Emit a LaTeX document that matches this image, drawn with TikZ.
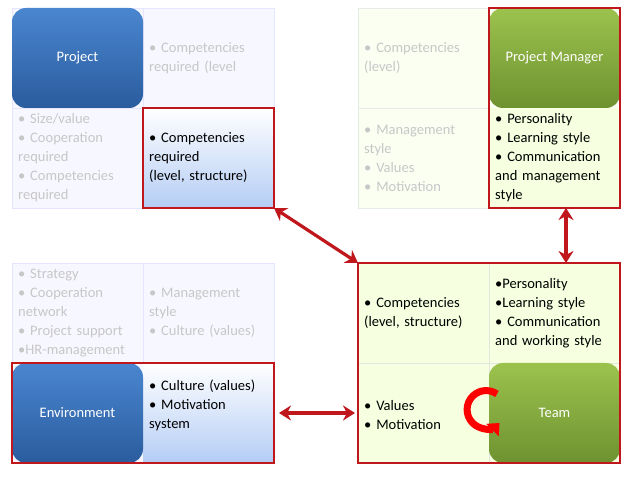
\documentclass[tikz,border=0pt]{standalone}
\usepackage{fontspec}
\setmainfont{Carlito}
\usetikzlibrary{arrows.meta}
\definecolor{bt}{HTML}{4A86D0}
\definecolor{bb}{HTML}{2A5C9E}
\definecolor{gt}{HTML}{9CC24E}
\definecolor{gb}{HTML}{6E9230}
\definecolor{lb}{HTML}{B4CDF5}
\definecolor{rd}{HTML}{C0171D}
\begin{document}
\begin{tikzpicture}[x=1pt,y=-1pt,
  txt/.style={anchor=west,align=left,font=\fontsize{14.5}{19}\selectfont,inner sep=0pt,text width=128pt},
  faint/.style={txt,text=black!22},
  red box/.style={draw=rd,line width=2.2pt},
  dbl/.style={draw=rd,line width=3.2pt,{Stealth[length=12pt,width=15pt]}-{Stealth[length=12pt,width=15pt]}},
  cellb/.style={fill=blue!3,draw=blue!10},
  cellg/.style={fill=green!40!yellow!5,draw=green!20!black!10},
  tileb/.style={rounded corners=14pt,top color=bt,bottom color=bb,draw=none},
  tileg/.style={rounded corners=14pt,top color=gt,bottom color=gb,draw=none},
  lbl/.style={text=white,font=\fontsize{14.5}{17}\selectfont}]
\path[use as bounding box,fill=white] (0,0) rectangle (638,478);
% Project
\fill[cellb] (12,8) rectangle (274,208);
\draw[blue!10] (143,8)--(143,208) (12,108)--(274,108);
\node[tileb,minimum width=131pt,minimum height=100pt,lbl] (proj) at (77.5,58) {Project};
\shade[top color=white,bottom color=lb] (143,108) rectangle (274,208);
\node[red box,minimum width=131pt,minimum height=100pt] (pbox) at (208.5,158) {};
\node[faint] (p1) at (149,58) {• Competencies\\required (level};
\node[faint] (p2) at (18,158) {• Size/value\\• Cooperation\\required\\• Competencies\\required};
\node[txt] (p3) at (149,158) {• Competencies\\required\\(level, structure)};
% Project manager
\fill[cellg] (358,8) rectangle (620,208);
\draw[green!20!black!10] (489,8)--(489,208) (358,108)--(620,108);
\node[tileg,minimum width=131pt,minimum height=100pt,lbl] (pm) at (554.5,58) {Project Manager};
\fill[green!30!yellow!12] (489,108) rectangle (620,208);
\node[red box,minimum width=131pt,minimum height=200pt] (pmbox) at (554.5,108) {};
\node[faint] (m1) at (364,58) {• Competencies\\(level)};
\node[faint] (m2) at (364,158) {• Management\\style\\• Values\\• Motivation};
\node[txt] (m3) at (495,158) {• Personality\\• Learning style\\• Communication\\and management\\style};
% Environment
\fill[cellb] (12,263) rectangle (274,463);
\draw[blue!10] (143,263)--(143,463) (12,363)--(274,363);
\shade[top color=white,bottom color=lb] (143,363) rectangle (274,463);
\node[tileb,minimum width=131pt,minimum height=100pt,lbl] (env) at (77.5,413) {Environment};
\node[red box,minimum width=262pt,minimum height=100pt] (ebox) at (143,413) {};
\node[faint] (e1) at (18,313) {• Strategy\\• Cooperation\\network\\• Project support\\•HR-management};
\node[faint] (e2) at (149,313) {• Management\\style\\• Culture (values)};
\node[txt] (e3) at (149,405) {• Culture (values)\\• Motivation\\system};
% Team
\fill[green!30!yellow!12] (358,263) rectangle (620,463);
\draw[green!20!black!12] (489,263)--(489,463) (358,363)--(620,363);
\node[tileg,minimum width=131pt,minimum height=100pt,lbl] (team) at (554.5,413) {Team};
\node[red box,minimum width=262pt,minimum height=200pt] (tbox) at (489,363) {};
\node[txt] (t1) at (364,313) {• Competencies\\(level, structure)};
\node[txt] (t2) at (495,313) {•Personality\\•Learning style\\• Communication\\and working style};
\node[txt] (t3) at (364,415) {• Values\\• Motivation};
% arrows
\coordinate (a1) at (274,208); \coordinate (a2) at (358,263);
\draw[dbl] (a1)--(a2);
\coordinate (b1) at (566,208); \coordinate (b2) at (566,263);
\draw[dbl] (b1)--(b2);
\coordinate (c1) at (279,413); \coordinate (c2) at (355,413);
\draw[dbl] (c1)--(c2);
\draw[red,line width=7pt,-{Triangle[length=10pt,width=17pt]}] (497,394) arc[start angle=-55,end angle=-315,radius=19];
\end{tikzpicture}
\end{document}
